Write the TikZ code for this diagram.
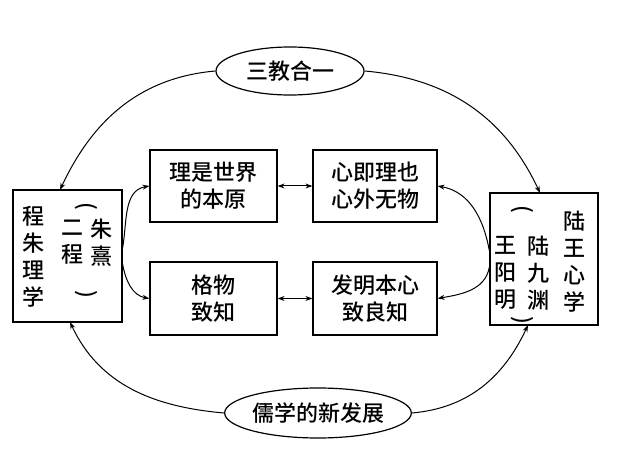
\documentclass[tikz,border=0pt]{standalone}
\usepackage{fontspec}
\usetikzlibrary{shapes.geometric,arrows.meta}
\newfontfamily\cjk{Noto Sans CJK SC Medium}
\begin{document}
\begin{tikzpicture}[x=1pt,y=-1pt,>={Stealth[length=7pt,width=5pt]},
 box/.style={draw,line width=1.2pt,inner sep=0pt},
 el/.style={draw,ellipse,line width=1.2pt,inner sep=0pt},
 tx/.style={font=\cjk\fontsize{22}{27}\selectfont,align=center,inner sep=0pt},
 ar/.style={->,line width=1pt}]
\useasboundingbox (0,0) rectangle (640,473);
\node[box,minimum width=109,minimum height=132] (lb) at (67.5,256) {};
\node[box,minimum width=108,minimum height=132] (rb) at (544,259) {};
\node[box,minimum width=127,minimum height=72] (a) at (213.5,186) {};
\node[box,minimum width=124,minimum height=72] (b) at (375,186) {};
\node[box,minimum width=127,minimum height=73] (c) at (213.5,298.5) {};
\node[box,minimum width=124,minimum height=73] (d) at (375,298.5) {};
\node[el,minimum width=148,minimum height=48,tx] (e1) at (290,71) {三教合一};
\node[el,minimum width=170,minimum height=50,tx] (e2) at (318,413) {儒学的新发展};
\node[tx] (a1) at (a) {理是世界\\的本原};
\node[tx] (b1) at (b) {心即理也\\心外无物};
\node[tx] (c1) at (c) {格物\\致知};
\node[tx] (d1) at (d) {发明本心\\致良知};
\node[tx] (l1) at (33,257) {程\\朱\\理\\学};
\node[tx] (l2) at (72,242) {二\\程};
\node[tx] (l3) at (101,243) {朱\\熹};
\node[tx,rotate=-90] (lp1) at (86,206) {(};
\node[tx,rotate=-90] (lp2) at (86,294) {)};
\node[tx] (r1) at (574,262) {陆\\王\\心\\学};
\node[tx] (r2) at (538,273) {陆\\九\\渊};
\node[tx] (r3) at (505,273) {王\\阳\\明};
\node[tx,rotate=-90] (rp1) at (522,209) {(};
\node[tx,rotate=-90] (rp2) at (522,320) {)};
\coordinate (lt) at (60,190);
\coordinate (lbt) at (70,322);
\coordinate (rt) at (540,193);
\coordinate (rbt) at (528,325);
\draw[ar] (e1.west) to[out=185,in=65] (lt);
\draw[ar] (e1.east) to[out=-5,in=115] (rt);
\draw[ar] (e2.west) to[out=175,in=-65] (lbt);
\draw[ar] (e2.east) to[out=5,in=-115] (rbt);
\draw[ar] (lb.east) ++(0,-8) to[out=80,in=190] (a.west);
\draw[ar] (lb.east) ++(0,8) to[out=-80,in=170] (c.west);
\draw[ar] (rb.west) ++(0,-8) to[out=100,in=-10] (b.east);
\draw[ar] (rb.west) ++(0,8) to[out=-100,in=10] (d.east);
\draw[<->,line width=1pt] (a.east) -- (b.west);
\draw[<->,line width=1pt] (c.east) -- (d.west);
\end{tikzpicture}
\end{document}
